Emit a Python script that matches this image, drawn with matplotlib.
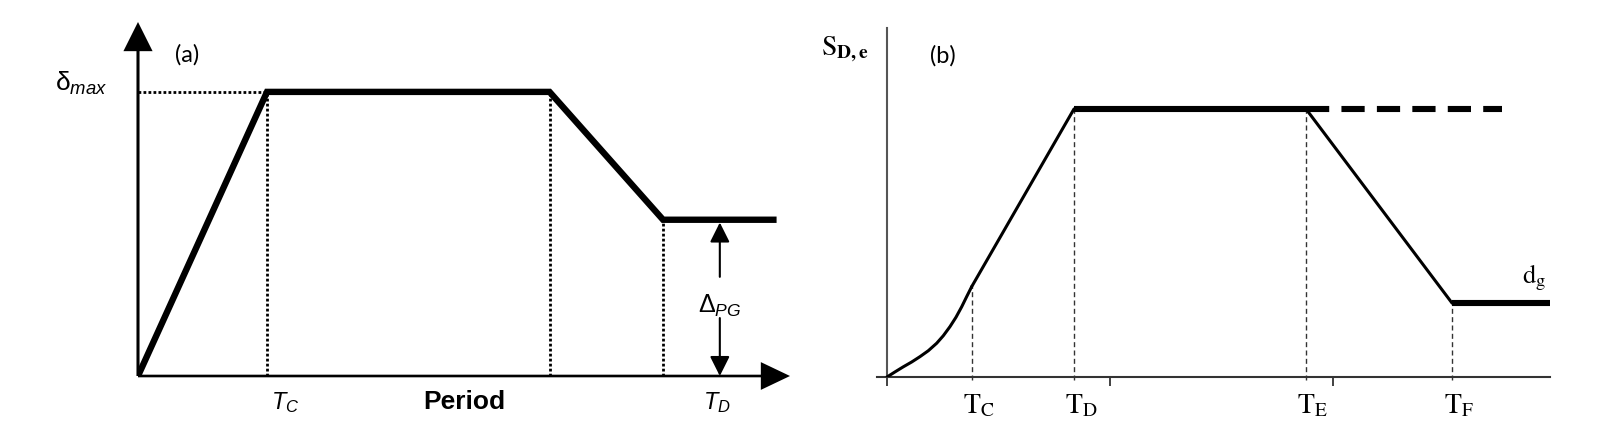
import matplotlib
matplotlib.use("Agg")
import matplotlib.pyplot as plt

plt.rcParams['mathtext.fontset'] = 'custom'
plt.rcParams['mathtext.rm'] = 'Liberation Sans'
plt.rcParams['mathtext.it'] = 'Liberation Sans:italic'
plt.rcParams['mathtext.bf'] = 'Liberation Sans:bold'

# (a) displacement spectrum, normalised so that T_C = 1 and delta_max = 1
a_period = [0.0, 1.0, 3.19, 4.07, 4.95]
a_disp = [0.0, 1.0, 1.0, 0.55, 0.55]
a_labels = [r'$T_C$', r'$T_D$']

# (b) elastic displacement spectrum (EC8 style)
b_curve_T = [0.0, 0.08, 0.163, 0.247, 0.33, 0.413, 0.497, 0.563, 0.63,
             0.69, 0.747, 0.797, 0.847]
b_curve_S = [0.0, 0.019, 0.038, 0.056, 0.076, 0.098, 0.126, 0.154, 0.188,
             0.223, 0.262, 0.30, 0.337]
b_period = [0.847, 1.87, 4.19, 5.65, 7.01]
b_sd = [0.337, 1.0, 1.0, 0.276, 0.276]
b_dash_end = 6.15
b_ticks = [0.0, 2.23, 4.46]
b_labels = [r'$\mathrm{T}_\mathrm{C}$', r'$\mathrm{T}_\mathrm{D}$',
            r'$\mathrm{T}_\mathrm{E}$', r'$\mathrm{T}_\mathrm{F}$']

fig = plt.figure(figsize=(16.17, 4.46), dpi=100)

# ---------------- panel (a) ----------------
a_xtip, a_ytop = 5.054, 1.246
ax = fig.add_axes([138 / 1617, 70 / 446, 652 / 1617, 354 / 446])
ax.set_xlim(0, a_xtip)
ax.set_ylim(0, a_ytop)
ax.set_axis_off()

# axes with arrow heads
ax.annotate('', xy=(0, a_ytop), xytext=(0, 0),
            arrowprops=dict(facecolor='black', edgecolor='black', lw=0,
                            width=2.2, headwidth=21, headlength=21, shrink=0))
ax.annotate('', xy=(a_xtip, 0), xytext=(0, 0),
            arrowprops=dict(facecolor='black', edgecolor='black', lw=0,
                            width=1.9, headwidth=20, headlength=21, shrink=0))

dot = (0, (1.0, 0.8))
ax.plot([0, a_period[1]], [a_disp[1], a_disp[1]], color='black', lw=2.0,
        linestyle=dot)
for i in (1, 2, 3):
    ax.plot([a_period[i], a_period[i]], [0, a_disp[i]], color='black', lw=2.0,
            linestyle=dot)

ax.plot(a_period, a_disp, color='black', lw=4.6, solid_joinstyle='miter',
        solid_capstyle='butt', zorder=5)

# delta_PG dimension arrow
dpg_x = 4.51
ax.annotate('', xy=(dpg_x, a_disp[-1]), xytext=(dpg_x, 0.349),
            arrowprops=dict(arrowstyle='-|>', color='black', lw=1.5,
                            mutation_scale=30, shrinkA=0, shrinkB=2))
ax.annotate('', xy=(dpg_x, 0), xytext=(dpg_x, 0.204),
            arrowprops=dict(arrowstyle='-|>', color='black', lw=1.5,
                            mutation_scale=30, shrinkA=0, shrinkB=0))
ax.text(dpg_x, 0.245, r'$\mathrm{\Delta}_{PG}$', fontsize=18, ha='center',
        va='center', math_fontfamily='custom')

ax.text(-0.24, 1.03, r'$\mathrm{\delta}_{max}$', fontsize=19, ha='right',
        va='center', math_fontfamily='custom')
ax.text(0.38, 1.13, '(a)', fontsize=17, family='Lato', ha='center',
        va='center')
ax.annotate(a_labels[0], xy=(a_period[1], 0), xytext=(13, -24),
            textcoords='offset points', ha='center', va='baseline',
            fontsize=17, math_fontfamily='custom')
ax.annotate(a_labels[1], xy=(dpg_x, 0), xytext=(-2, -24),
            textcoords='offset points', ha='center', va='baseline',
            fontsize=17, math_fontfamily='custom')
ax.text(0.5, -0.073, 'Period', transform=ax.transAxes, fontsize=19,
        fontweight='bold', family='Liberation Sans', ha='center', va='center')

# ---------------- panel (b) ----------------
bx = fig.add_axes([877 / 1617, 69 / 446, 673 / 1617, 349 / 446])
bx.set_xlim(-0.1, 6.63)
bx.set_ylim(0, 1.302)
bx.patch.set_visible(False)
for s in ('top', 'right'):
    bx.spines[s].set_visible(False)
bx.spines['left'].set_position(('data', 0))
bx.spines['left'].set_color('#555555')
bx.spines['left'].set_linewidth(1.5)
bx.spines['bottom'].set_color('#333333')
bx.spines['bottom'].set_linewidth(1.5)
bx.set_yticks([])
bx.set_xticks(b_ticks)
bx.set_xticklabels([])
bx.tick_params(axis='x', direction='out', length=6.5, width=1.3,
               color='#333333')

# guide lines down to the period axis
for t, s in zip(b_period[:4], b_sd[:4]):
    bx.plot([t, t], [-0.012, s], color='#333333', lw=1.0,
            linestyle=(0, (3.6, 2.4)), clip_on=False)

# spectrum
bx.plot(b_curve_T, b_curve_S, color='black', lw=2.2, solid_capstyle='round',
        solid_joinstyle='round', zorder=5)
bx.plot(b_period[0:2], b_sd[0:2], color='black', lw=2.2,
        solid_capstyle='round', zorder=5)
bx.plot(b_period[1:3], b_sd[1:3], color='black', lw=4.4,
        solid_capstyle='butt', zorder=5)
bx.plot(b_period[2:4], b_sd[2:4], color='black', lw=2.2,
        solid_capstyle='round', zorder=5)
bx.plot(b_period[3:5], b_sd[3:5], color='black', lw=4.4,
        solid_capstyle='butt', zorder=5)
bx.plot([b_period[2], b_dash_end], [b_sd[2], b_sd[2]], color='black', lw=4.4,
        linestyle=(0, (3.8, 2.0)), solid_capstyle='butt', zorder=4)

for t, lab in zip(b_period[:4], b_labels):
    bx.annotate(lab, xy=(t, 0), xytext=(5, -26), textcoords='offset points',
                ha='center', va='baseline', fontsize=20,
                math_fontfamily='stix')

bx.text(-0.66, 1.20, r'$\mathrm{S}_{\mathbf{D,e}}$', fontsize=20, ha='left',
        va='baseline', math_fontfamily='stix')
bx.text(0.56, 1.198, '(b)', fontsize=17, family='Lato', ha='center',
        va='center')
bx.text(6.35, 0.35, r'$\mathrm{d}_\mathrm{g}$', fontsize=19, ha='left',
        va='baseline', math_fontfamily='stix')

fig.savefig('out.png', dpi=100)
